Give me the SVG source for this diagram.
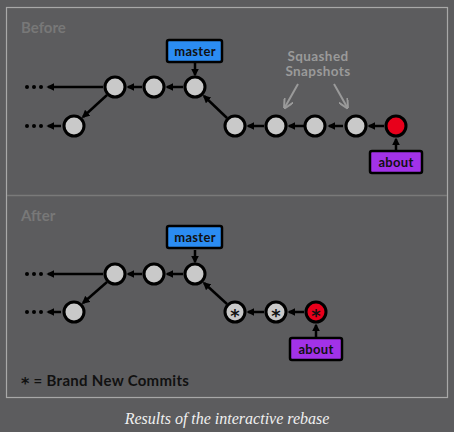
<svg xmlns="http://www.w3.org/2000/svg" width="454" height="432" viewBox="0 0 454 432">
<defs>
<marker id="ah" viewBox="0 0 10 10" refX="8" refY="5" markerWidth="3.2" markerHeight="3.2" orient="auto" markerUnits="strokeWidth"><path d="M0,0 L10,5 L0,10 z" fill="#000"/></marker>
<marker id="ahg" viewBox="0 0 10 10" refX="8" refY="5" markerWidth="5" markerHeight="5" orient="auto" markerUnits="strokeWidth"><path d="M0,0 L10,5 L0,10" fill="none" stroke="#9a9a9a" stroke-width="2"/></marker>
<radialGradient id="g" cx="0.4" cy="0.4" r="0.7"><stop offset="0.7" stop-color="#c9c9c9"/><stop offset="1" stop-color="#a9a9a9"/></radialGradient>
<radialGradient id="gr" cx="0.4" cy="0.4" r="0.7"><stop offset="0.7" stop-color="#e8001b"/><stop offset="1" stop-color="#b00014"/></radialGradient>
</defs>
<style>
.node{fill:url(#g);stroke:#000;stroke-width:3}
.red{fill:url(#gr)}
.e{stroke:#000;stroke-width:2.5;fill:none;marker-end:url(#ah)}
.eg{stroke:#9a9a9a;stroke-width:2;fill:none;marker-end:url(#ahg)}
.lbl{font-family:Lato,"Noto Sans",sans-serif;font-weight:bold;font-size:13px;fill:#111;text-anchor:middle;letter-spacing:0.3px}
.sec{font-family:Lato,"Noto Sans",sans-serif;font-weight:bold;font-size:15px;fill:#787878}
.sq{font-family:Lato,"Noto Sans",sans-serif;font-weight:bold;font-size:13.5px;fill:#9a9a9a;text-anchor:middle;letter-spacing:0.4px}
.blue{fill:#2b8cf2;stroke:#000;stroke-width:2.5}
.purple{fill:#a232e8;stroke:#000;stroke-width:2.5}
.star{font-family:"DejaVu Sans",sans-serif;font-weight:bold;font-size:18px;fill:#111;text-anchor:middle}
.dot{fill:#000}
</style>
<rect width="454" height="432" fill="#5c5c5e"/>
<rect x="6.5" y="7.5" width="441" height="390" fill="none" stroke="#a8a8a8" stroke-width="1.2"/>
<line x1="7" y1="195.5" x2="447" y2="195.5" stroke="#7a7a7a" stroke-width="1.5"/>
<text class="sec" x="21" y="33">Before</text>
<text class="sec" x="21" y="221">After</text>
<text class="sq" x="318" y="61">Squashed</text>
<text class="sq" x="318" y="76">Snapshots</text>

<g id="connectors">
<line class="e" x1="103" y1="87" x2="48" y2="87"/>
<line class="e" x1="61" y1="126" x2="48" y2="126"/>
<line class="e" x1="107" y1="95" x2="83" y2="117"/>
<line class="e" x1="142" y1="87" x2="128" y2="87"/>
<line class="e" x1="183" y1="87" x2="167" y2="87"/>
<line class="e" x1="195" y1="63" x2="195" y2="75"/>
<line class="e" x1="227" y1="118" x2="204" y2="96"/>
<line class="e" x1="264" y1="126" x2="248" y2="126"/>
<line class="e" x1="304" y1="126" x2="289" y2="126"/>
<line class="e" x1="343" y1="126" x2="329" y2="126"/>
<line class="e" x1="384" y1="126" x2="369" y2="126"/>
<line class="e" x1="396" y1="150" x2="396" y2="139"/>
<line class="eg" x1="298" y1="84" x2="285" y2="107"/>
<line class="eg" x1="334" y1="84" x2="347" y2="107"/>
<line class="e" x1="103" y1="274" x2="48" y2="274"/>
<line class="e" x1="61" y1="312" x2="48" y2="312"/>
<line class="e" x1="107" y1="282" x2="83" y2="303"/>
<line class="e" x1="142" y1="274" x2="128" y2="274"/>
<line class="e" x1="183" y1="274" x2="167" y2="274"/>
<line class="e" x1="195" y1="250" x2="195" y2="262"/>
<line class="e" x1="227" y1="304" x2="204" y2="283"/>
<line class="e" x1="264" y1="312" x2="248" y2="312"/>
<line class="e" x1="304" y1="312" x2="289" y2="312"/>
<line class="e" x1="316" y1="337" x2="316" y2="325"/>
</g>

<g id="dots">
<circle class="dot" cx="27" cy="87" r="2"/><circle class="dot" cx="34" cy="87" r="2"/><circle class="dot" cx="41" cy="87" r="2"/>
<circle class="dot" cx="27" cy="126" r="2"/><circle class="dot" cx="34" cy="126" r="2"/><circle class="dot" cx="41" cy="126" r="2"/>
<circle class="dot" cx="27" cy="274" r="2"/><circle class="dot" cx="34" cy="274" r="2"/><circle class="dot" cx="41" cy="274" r="2"/>
<circle class="dot" cx="27" cy="312" r="2"/><circle class="dot" cx="34" cy="312" r="2"/><circle class="dot" cx="41" cy="312" r="2"/>
</g>

<g id="b-c1"><circle class="node" cx="115" cy="87" r="10"/></g>
<g id="b-c2"><circle class="node" cx="154" cy="87" r="10"/></g>
<g id="b-c3"><circle class="node" cx="195" cy="87" r="10"/></g>
<g id="b-c0"><circle class="node" cx="74" cy="126" r="10"/></g>
<g id="b-c4"><circle class="node" cx="235" cy="126" r="10"/></g>
<g id="b-c5"><circle class="node" cx="276" cy="126" r="10"/></g>
<g id="b-c6"><circle class="node" cx="315" cy="126" r="10"/></g>
<g id="b-c7"><circle class="node" cx="356" cy="126" r="10"/></g>
<g id="b-c8"><circle class="node red" cx="396" cy="126" r="10"/></g>
<g id="b-master"><rect class="blue" x="167" y="40" width="55" height="22" rx="2"/><text class="lbl" x="195" y="55.5">master</text></g>
<g id="b-about"><rect class="purple" x="370" y="151" width="52" height="22" rx="2"/><text class="lbl" x="396" y="166.5">about</text></g>

<g id="a-c1"><circle class="node" cx="115" cy="274" r="10"/></g>
<g id="a-c2"><circle class="node" cx="154" cy="274" r="10"/></g>
<g id="a-c3"><circle class="node" cx="195" cy="274" r="10"/></g>
<g id="a-c0"><circle class="node" cx="74" cy="312" r="10"/></g>
<g id="a-n1"><circle class="node" cx="235" cy="312" r="10"/><text class="star" x="235" y="321.5">*</text></g>
<g id="a-n2"><circle class="node" cx="276" cy="312" r="10"/><text class="star" x="276" y="321.5">*</text></g>
<g id="a-n3"><circle class="node red" cx="316" cy="312" r="10"/><text class="star" x="316" y="321.5">*</text></g>
<g id="a-master"><rect class="blue" x="167" y="226" width="55" height="22" rx="2"/><text class="lbl" x="195" y="241.5">master</text></g>
<g id="a-about"><rect class="purple" x="290" y="338" width="52" height="22" rx="2"/><text class="lbl" x="316" y="353.5">about</text></g>

<text x="21" y="386" font-family="Lato,'Noto Sans',sans-serif" font-weight="bold" font-size="15" letter-spacing="0.3" fill="#111"><tspan font-family="'DejaVu Sans',sans-serif" font-size="16" dy="3">*</tspan><tspan dy="-3"> = Brand New Commits</tspan></text>
<text x="227" y="424" font-family="'Liberation Serif',serif" font-style="italic" font-size="16" fill="#f0f0f0" text-anchor="middle">Results of the interactive rebase</text>
</svg>
